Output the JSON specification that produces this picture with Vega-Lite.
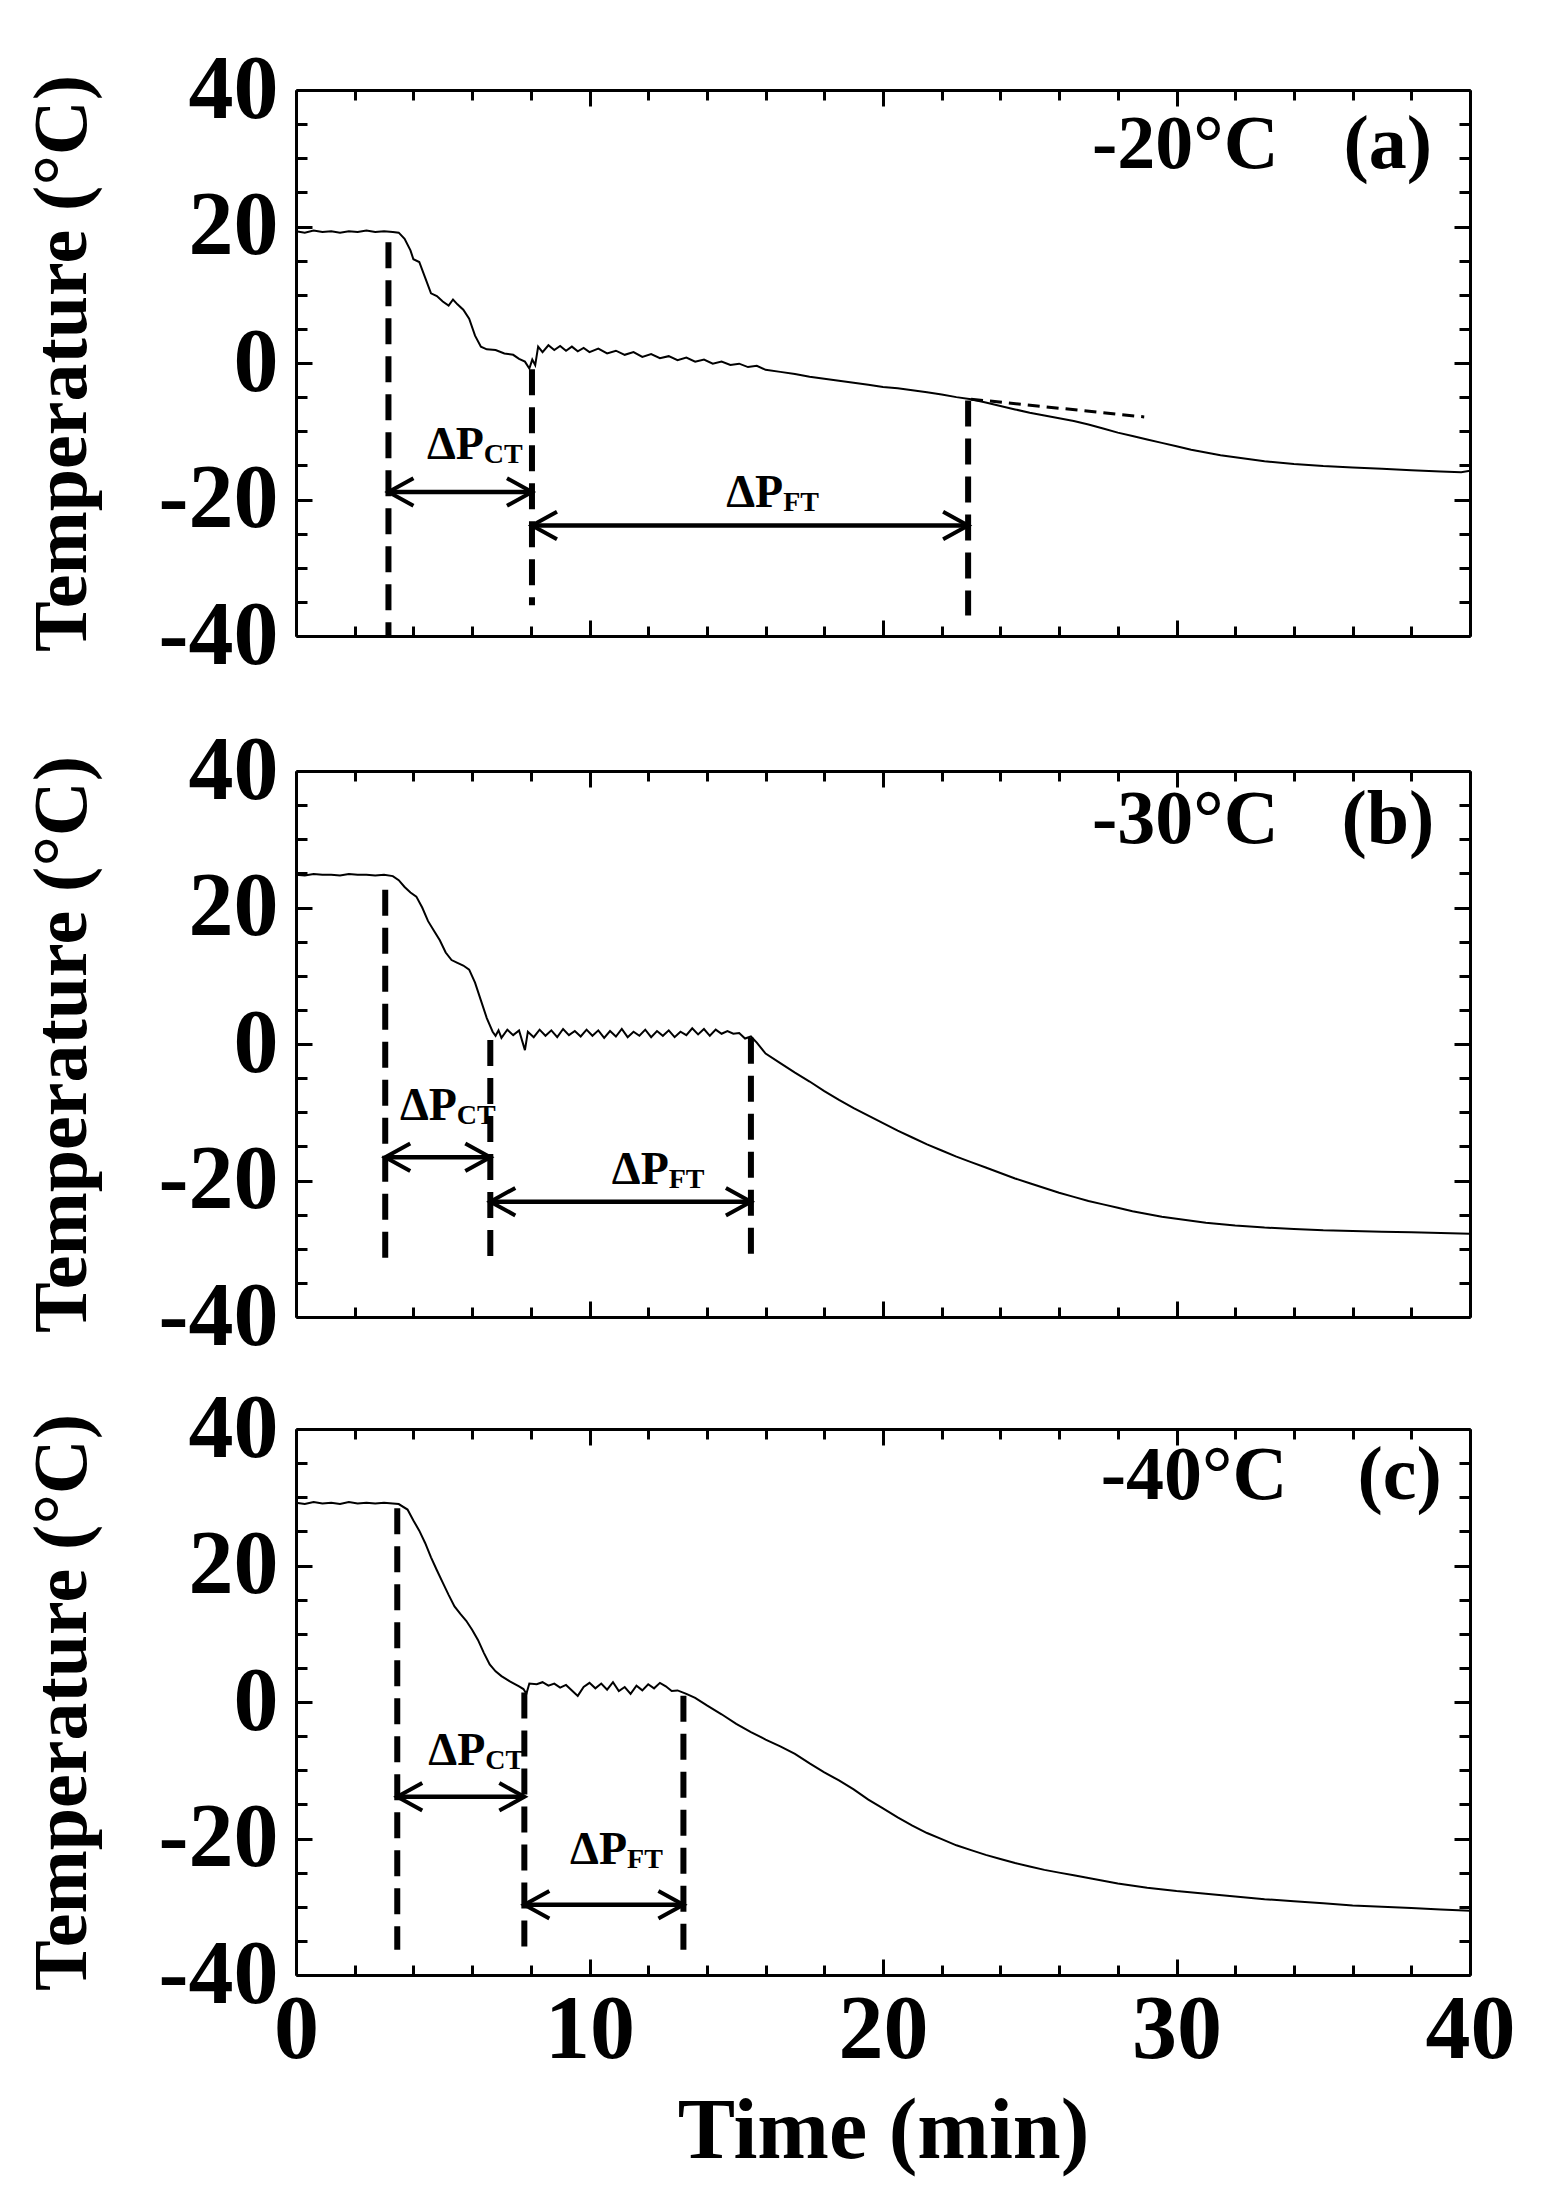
{
  "$schema": "https://vega.github.io/schema/vega-lite/v6.json",
  "background": "white",
  "padding": {"left": 24, "top": 45, "right": 0, "bottom": 20},
  "config": {
    "view": {"stroke": null},
    "font": "Liberation Serif",
    "axis": {
      "grid": false,
      "domainColor": "black",
      "domainWidth": 3,
      "tickColor": "black",
      "tickWidth": 3,
      "labelFont": "Liberation Serif",
      "labelFontSize": 90,
      "labelFontWeight": "bold",
      "labelColor": "black",
      "labelFlush": false,
      "labelOverlap": false,
      "labelBound": false,
      "titleFont": "Liberation Serif",
      "titleFontWeight": "bold",
      "titleColor": "black"
    },
    "text": {"font": "Liberation Serif", "fontWeight": "bold", "color": "black"}
  },
  "datasets": {
    "curve": [
      {"panel":"a","time":0,"temp":19.3},{"panel":"a","time":0.3,"temp":19.1},{"panel":"a","time":0.6,"temp":19.4},{"panel":"a","time":0.9,"temp":19.2},
      {"panel":"a","time":1.2,"temp":19.3},{"panel":"a","time":1.5,"temp":19.1},{"panel":"a","time":1.8,"temp":19.3},{"panel":"a","time":2.1,"temp":19.2},
      {"panel":"a","time":2.4,"temp":19.4},{"panel":"a","time":2.7,"temp":19.2},{"panel":"a","time":3.0,"temp":19.3},{"panel":"a","time":3.3,"temp":19.2},
      {"panel":"a","time":3.5,"temp":19.1},{"panel":"a","time":3.7,"temp":18.2},{"panel":"a","time":3.9,"temp":16.5},{"panel":"a","time":4.0,"temp":15.2},
      {"panel":"a","time":4.2,"temp":14.8},{"panel":"a","time":4.4,"temp":12.5},{"panel":"a","time":4.6,"temp":10.2},{"panel":"a","time":4.8,"temp":9.8},
      {"panel":"a","time":5.0,"temp":9.0},{"panel":"a","time":5.2,"temp":8.4},{"panel":"a","time":5.35,"temp":9.3},{"panel":"a","time":5.5,"temp":8.6},
      {"panel":"a","time":5.7,"temp":7.8},{"panel":"a","time":5.9,"temp":6.5},{"panel":"a","time":6.1,"temp":4.0},{"panel":"a","time":6.3,"temp":2.4},
      {"panel":"a","time":6.5,"temp":2.0},{"panel":"a","time":6.8,"temp":1.9},{"panel":"a","time":7.1,"temp":1.4},{"panel":"a","time":7.4,"temp":1.2},
      {"panel":"a","time":7.6,"temp":0.6},{"panel":"a","time":7.8,"temp":0.2},{"panel":"a","time":7.95,"temp":-0.8},{"panel":"a","time":8.05,"temp":0.5},
      {"panel":"a","time":8.15,"temp":-0.3},{"panel":"a","time":8.25,"temp":2.4},{"panel":"a","time":8.4,"temp":1.6},{"panel":"a","time":8.6,"temp":2.6},
      {"panel":"a","time":8.8,"temp":1.9},{"panel":"a","time":9.0,"temp":2.5},{"panel":"a","time":9.2,"temp":1.8},{"panel":"a","time":9.4,"temp":2.4},
      {"panel":"a","time":9.6,"temp":1.7},{"panel":"a","time":9.8,"temp":2.2},{"panel":"a","time":10.0,"temp":1.6},{"panel":"a","time":10.3,"temp":2.1},
      {"panel":"a","time":10.6,"temp":1.4},{"panel":"a","time":10.9,"temp":1.8},{"panel":"a","time":11.2,"temp":1.2},{"panel":"a","time":11.5,"temp":1.6},
      {"panel":"a","time":11.8,"temp":0.9},{"panel":"a","time":12.1,"temp":1.3},{"panel":"a","time":12.4,"temp":0.7},{"panel":"a","time":12.7,"temp":1.0},
      {"panel":"a","time":13.0,"temp":0.4},{"panel":"a","time":13.3,"temp":0.8},{"panel":"a","time":13.6,"temp":0.2},{"panel":"a","time":13.9,"temp":0.5},
      {"panel":"a","time":14.2,"temp":-0.1},{"panel":"a","time":14.5,"temp":0.2},{"panel":"a","time":14.8,"temp":-0.3},{"panel":"a","time":15.1,"temp":-0.1},
      {"panel":"a","time":15.4,"temp":-0.6},{"panel":"a","time":15.7,"temp":-0.4},{"panel":"a","time":16.0,"temp":-1.0},{"panel":"a","time":16.5,"temp":-1.3},
      {"panel":"a","time":17,"temp":-1.6},{"panel":"a","time":17.5,"temp":-2.0},{"panel":"a","time":18,"temp":-2.3},{"panel":"a","time":18.5,"temp":-2.6},
      {"panel":"a","time":19,"temp":-2.9},{"panel":"a","time":19.5,"temp":-3.2},{"panel":"a","time":20,"temp":-3.5},{"panel":"a","time":20.5,"temp":-3.7},
      {"panel":"a","time":21,"temp":-4.0},{"panel":"a","time":21.5,"temp":-4.3},{"panel":"a","time":22,"temp":-4.6},{"panel":"a","time":22.5,"temp":-5.0},
      {"panel":"a","time":23,"temp":-5.3},{"panel":"a","time":23.5,"temp":-5.8},{"panel":"a","time":24,"temp":-6.3},{"panel":"a","time":24.5,"temp":-6.8},
      {"panel":"a","time":25,"temp":-7.3},{"panel":"a","time":25.5,"temp":-7.7},{"panel":"a","time":26,"temp":-8.1},{"panel":"a","time":26.5,"temp":-8.5},
      {"panel":"a","time":27,"temp":-9.0},{"panel":"a","time":27.5,"temp":-9.6},{"panel":"a","time":28,"temp":-10.2},{"panel":"a","time":28.5,"temp":-10.7},
      {"panel":"a","time":29,"temp":-11.2},{"panel":"a","time":29.5,"temp":-11.7},{"panel":"a","time":30,"temp":-12.2},{"panel":"a","time":30.5,"temp":-12.7},
      {"panel":"a","time":31,"temp":-13.1},{"panel":"a","time":31.5,"temp":-13.5},{"panel":"a","time":32,"temp":-13.8},{"panel":"a","time":32.5,"temp":-14.1},
      {"panel":"a","time":33,"temp":-14.4},{"panel":"a","time":34,"temp":-14.8},{"panel":"a","time":35,"temp":-15.1},{"panel":"a","time":36,"temp":-15.3},
      {"panel":"a","time":37,"temp":-15.5},{"panel":"a","time":38,"temp":-15.7},{"panel":"a","time":39,"temp":-15.9},{"panel":"a","time":39.7,"temp":-16.0},
      {"panel":"a","time":40,"temp":-15.8},

      {"panel":"b","time":0,"temp":24.8},{"panel":"b","time":0.3,"temp":24.7},{"panel":"b","time":0.6,"temp":24.9},{"panel":"b","time":0.9,"temp":24.8},
      {"panel":"b","time":1.2,"temp":24.8},{"panel":"b","time":1.5,"temp":24.7},{"panel":"b","time":1.8,"temp":24.9},{"panel":"b","time":2.1,"temp":24.8},
      {"panel":"b","time":2.4,"temp":24.8},{"panel":"b","time":2.7,"temp":24.7},{"panel":"b","time":3.0,"temp":24.8},{"panel":"b","time":3.3,"temp":24.6},
      {"panel":"b","time":3.5,"temp":24.0},{"panel":"b","time":3.7,"temp":23.0},{"panel":"b","time":3.9,"temp":22.2},{"panel":"b","time":4.1,"temp":21.6},
      {"panel":"b","time":4.3,"temp":20.0},{"panel":"b","time":4.5,"temp":18.0},{"panel":"b","time":4.7,"temp":16.6},{"panel":"b","time":4.9,"temp":15.2},
      {"panel":"b","time":5.1,"temp":13.4},{"panel":"b","time":5.3,"temp":12.3},{"panel":"b","time":5.5,"temp":11.9},{"panel":"b","time":5.7,"temp":11.5},
      {"panel":"b","time":5.9,"temp":10.9},{"panel":"b","time":6.1,"temp":9.0},{"panel":"b","time":6.3,"temp":6.4},{"panel":"b","time":6.5,"temp":3.8},
      {"panel":"b","time":6.7,"temp":1.8},{"panel":"b","time":6.8,"temp":1.2},{"panel":"b","time":6.9,"temp":2.0},{"panel":"b","time":7.0,"temp":0.9},
      {"panel":"b","time":7.2,"temp":2.1},{"panel":"b","time":7.4,"temp":1.3},{"panel":"b","time":7.6,"temp":2.0},{"panel":"b","time":7.8,"temp":-0.9},
      {"panel":"b","time":7.9,"temp":1.8},{"panel":"b","time":8.1,"temp":1.0},{"panel":"b","time":8.3,"temp":2.1},{"panel":"b","time":8.5,"temp":1.2},
      {"panel":"b","time":8.7,"temp":2.0},{"panel":"b","time":8.9,"temp":1.0},{"panel":"b","time":9.1,"temp":2.2},{"panel":"b","time":9.3,"temp":1.3},
      {"panel":"b","time":9.5,"temp":1.9},{"panel":"b","time":9.7,"temp":1.1},{"panel":"b","time":9.9,"temp":2.1},{"panel":"b","time":10.1,"temp":1.2},
      {"panel":"b","time":10.3,"temp":2.0},{"panel":"b","time":10.5,"temp":0.9},{"panel":"b","time":10.7,"temp":1.9},{"panel":"b","time":10.9,"temp":1.1},
      {"panel":"b","time":11.1,"temp":2.2},{"panel":"b","time":11.3,"temp":1.0},{"panel":"b","time":11.5,"temp":1.8},{"panel":"b","time":11.7,"temp":1.2},
      {"panel":"b","time":11.9,"temp":2.1},{"panel":"b","time":12.1,"temp":1.0},{"panel":"b","time":12.3,"temp":1.9},{"panel":"b","time":12.5,"temp":1.2},
      {"panel":"b","time":12.7,"temp":2.0},{"panel":"b","time":12.9,"temp":1.0},{"panel":"b","time":13.1,"temp":1.8},{"panel":"b","time":13.3,"temp":1.3},
      {"panel":"b","time":13.5,"temp":2.3},{"panel":"b","time":13.7,"temp":1.4},{"panel":"b","time":13.9,"temp":2.2},{"panel":"b","time":14.1,"temp":1.2},
      {"panel":"b","time":14.3,"temp":2.1},{"panel":"b","time":14.5,"temp":1.5},{"panel":"b","time":14.7,"temp":1.9},{"panel":"b","time":14.9,"temp":1.5},
      {"panel":"b","time":15.1,"temp":1.6},{"panel":"b","time":15.3,"temp":0.8},{"panel":"b","time":15.5,"temp":1.1},{"panel":"b","time":15.7,"temp":0.2},
      {"panel":"b","time":16,"temp":-1.4},{"panel":"b","time":16.5,"temp":-2.8},{"panel":"b","time":17,"temp":-4.2},{"panel":"b","time":17.5,"temp":-5.5},
      {"panel":"b","time":18,"temp":-6.9},{"panel":"b","time":18.5,"temp":-8.2},{"panel":"b","time":19,"temp":-9.4},{"panel":"b","time":19.5,"temp":-10.5},
      {"panel":"b","time":20,"temp":-11.6},{"panel":"b","time":20.5,"temp":-12.7},{"panel":"b","time":21,"temp":-13.7},{"panel":"b","time":21.5,"temp":-14.7},
      {"panel":"b","time":22,"temp":-15.6},{"panel":"b","time":22.5,"temp":-16.5},{"panel":"b","time":23,"temp":-17.3},{"panel":"b","time":23.5,"temp":-18.1},
      {"panel":"b","time":24,"temp":-18.9},{"panel":"b","time":24.5,"temp":-19.7},{"panel":"b","time":25,"temp":-20.4},{"panel":"b","time":25.5,"temp":-21.1},
      {"panel":"b","time":26,"temp":-21.8},{"panel":"b","time":26.5,"temp":-22.4},{"panel":"b","time":27,"temp":-23.0},{"panel":"b","time":27.5,"temp":-23.5},
      {"panel":"b","time":28,"temp":-24.0},{"panel":"b","time":28.5,"temp":-24.5},{"panel":"b","time":29,"temp":-24.9},{"panel":"b","time":29.5,"temp":-25.3},
      {"panel":"b","time":30,"temp":-25.6},{"panel":"b","time":31,"temp":-26.2},{"panel":"b","time":32,"temp":-26.6},{"panel":"b","time":33,"temp":-26.9},
      {"panel":"b","time":34,"temp":-27.1},{"panel":"b","time":35,"temp":-27.3},{"panel":"b","time":36,"temp":-27.4},{"panel":"b","time":37,"temp":-27.5},
      {"panel":"b","time":38,"temp":-27.6},{"panel":"b","time":39,"temp":-27.7},{"panel":"b","time":40,"temp":-27.8},

      {"panel":"c","time":0,"temp":29.2},{"panel":"c","time":0.3,"temp":29.0},{"panel":"c","time":0.6,"temp":29.3},{"panel":"c","time":0.9,"temp":29.1},
      {"panel":"c","time":1.2,"temp":29.2},{"panel":"c","time":1.5,"temp":29.0},{"panel":"c","time":1.8,"temp":29.3},{"panel":"c","time":2.1,"temp":29.1},
      {"panel":"c","time":2.4,"temp":29.2},{"panel":"c","time":2.7,"temp":29.1},{"panel":"c","time":3.0,"temp":29.2},{"panel":"c","time":3.3,"temp":29.1},
      {"panel":"c","time":3.5,"temp":29.0},{"panel":"c","time":3.8,"temp":28.2},{"panel":"c","time":4.0,"temp":26.6},{"panel":"c","time":4.2,"temp":25.1},
      {"panel":"c","time":4.4,"temp":23.3},{"panel":"c","time":4.6,"temp":21.2},{"panel":"c","time":4.8,"temp":19.3},{"panel":"c","time":5.0,"temp":17.5},
      {"panel":"c","time":5.2,"temp":15.7},{"panel":"c","time":5.4,"temp":14.0},{"panel":"c","time":5.6,"temp":12.9},{"panel":"c","time":5.8,"temp":11.9},
      {"panel":"c","time":6.0,"temp":10.6},{"panel":"c","time":6.2,"temp":9.1},{"panel":"c","time":6.4,"temp":7.2},{"panel":"c","time":6.6,"temp":5.5},
      {"panel":"c","time":6.8,"temp":4.5},{"panel":"c","time":7.0,"temp":3.8},{"panel":"c","time":7.3,"temp":3.0},{"panel":"c","time":7.6,"temp":2.3},
      {"panel":"c","time":7.75,"temp":1.9},{"panel":"c","time":7.85,"temp":1.2},{"panel":"c","time":7.95,"temp":2.7},{"panel":"c","time":8.2,"temp":2.6},
      {"panel":"c","time":8.4,"temp":2.9},{"panel":"c","time":8.6,"temp":2.4},{"panel":"c","time":8.8,"temp":2.7},{"panel":"c","time":9.0,"temp":2.1},
      {"panel":"c","time":9.2,"temp":2.5},{"panel":"c","time":9.4,"temp":1.7},{"panel":"c","time":9.6,"temp":0.9},{"panel":"c","time":9.8,"temp":2.2},
      {"panel":"c","time":10.0,"temp":2.8},{"panel":"c","time":10.2,"temp":2.0},{"panel":"c","time":10.4,"temp":2.7},{"panel":"c","time":10.6,"temp":1.8},
      {"panel":"c","time":10.8,"temp":2.9},{"panel":"c","time":11.0,"temp":1.6},{"panel":"c","time":11.2,"temp":2.2},{"panel":"c","time":11.4,"temp":1.2},
      {"panel":"c","time":11.6,"temp":2.4},{"panel":"c","time":11.8,"temp":1.7},{"panel":"c","time":12.0,"temp":2.6},{"panel":"c","time":12.2,"temp":2.0},
      {"panel":"c","time":12.4,"temp":2.8},{"panel":"c","time":12.6,"temp":2.3},{"panel":"c","time":12.8,"temp":1.6},{"panel":"c","time":13.0,"temp":1.7},
      {"panel":"c","time":13.3,"temp":1.2},{"panel":"c","time":13.6,"temp":0.6},{"panel":"c","time":14,"temp":-0.5},{"panel":"c","time":14.5,"temp":-1.8},
      {"panel":"c","time":15,"temp":-3.2},{"panel":"c","time":15.5,"temp":-4.4},{"panel":"c","time":16,"temp":-5.5},{"panel":"c","time":16.5,"temp":-6.5},
      {"panel":"c","time":17,"temp":-7.6},{"panel":"c","time":17.5,"temp":-9.0},{"panel":"c","time":18,"temp":-10.3},{"panel":"c","time":18.5,"temp":-11.5},
      {"panel":"c","time":19,"temp":-12.8},{"panel":"c","time":19.5,"temp":-14.3},{"panel":"c","time":20,"temp":-15.6},{"panel":"c","time":20.5,"temp":-16.9},
      {"panel":"c","time":21,"temp":-18.1},{"panel":"c","time":21.5,"temp":-19.2},{"panel":"c","time":22,"temp":-20.1},{"panel":"c","time":22.5,"temp":-21.0},
      {"panel":"c","time":23,"temp":-21.7},{"panel":"c","time":23.5,"temp":-22.4},{"panel":"c","time":24,"temp":-23.0},{"panel":"c","time":24.5,"temp":-23.6},
      {"panel":"c","time":25,"temp":-24.1},{"panel":"c","time":25.5,"temp":-24.6},{"panel":"c","time":26,"temp":-25.0},{"panel":"c","time":26.5,"temp":-25.4},
      {"panel":"c","time":27,"temp":-25.8},{"panel":"c","time":27.5,"temp":-26.2},{"panel":"c","time":28,"temp":-26.6},{"panel":"c","time":29,"temp":-27.2},
      {"panel":"c","time":30,"temp":-27.7},{"panel":"c","time":31,"temp":-28.1},{"panel":"c","time":32,"temp":-28.5},{"panel":"c","time":33,"temp":-28.9},
      {"panel":"c","time":34,"temp":-29.2},{"panel":"c","time":35,"temp":-29.5},{"panel":"c","time":36,"temp":-29.8},{"panel":"c","time":37,"temp":-30.0},
      {"panel":"c","time":38,"temp":-30.2},{"panel":"c","time":39,"temp":-30.4},{"panel":"c","time":40,"temp":-30.6}
    ],
    "extrap": [
      {"panel":"a","time":23,"temp":-5.3},{"panel":"a","time":28.9,"temp":-7.9}
    ],
    "vlines": [
      {"panel":"a","time":3.15,"top":17.7,"bottom":-40},
      {"panel":"a","time":8.04,"top":-0.9,"bottom":-35.5},
      {"panel":"a","time":22.9,"top":-5.5,"bottom":-37},
      {"panel":"b","time":3.04,"top":22.6,"bottom":-32.6},
      {"panel":"b","time":6.62,"top":0.6,"bottom":-32.1},
      {"panel":"b","time":15.5,"top":0.9,"bottom":-31.3},
      {"panel":"c","time":3.45,"top":28.4,"bottom":-36.3},
      {"panel":"c","time":7.78,"top":1.4,"bottom":-37.4},
      {"panel":"c","time":13.2,"top":0.9,"bottom":-36.6}
    ],
    "arrows": [
      {"panel":"a","start":3.15,"end":8.04,"temp":-18.9},
      {"panel":"a","start":8.04,"end":22.9,"temp":-23.8},
      {"panel":"b","start":3.04,"end":6.62,"temp":-16.6},
      {"panel":"b","start":6.62,"end":15.5,"temp":-23.1},
      {"panel":"c","start":3.45,"end":7.78,"temp":-13.9},
      {"panel":"c","start":7.78,"end":13.2,"temp":-29.7}
    ],
    "deltas": [
      {"panel":"a","time":6.4,"temp":-14.1,"main":"ΔP","sub":"CT"},
      {"panel":"a","time":16.6,"temp":-21.1,"main":"ΔP","sub":"FT"},
      {"panel":"b","time":5.48,"temp":-11.2,"main":"ΔP","sub":"CT"},
      {"panel":"b","time":12.7,"temp":-20.5,"main":"ΔP","sub":"FT"},
      {"panel":"c","time":6.45,"temp":-9.3,"main":"ΔP","sub":"CT"},
      {"panel":"c","time":11.28,"temp":-23.8,"main":"ΔP","sub":"FT"}
    ],
    "tags": [
      {"panel":"a","time":30.3,"temp":28.6,"label":"-20°C"},
      {"panel":"a","time":37.2,"temp":28.6,"label":"(a)"},
      {"panel":"b","time":30.3,"temp":29.5,"label":"-30°C"},
      {"panel":"b","time":37.2,"temp":29.5,"label":"(b)"},
      {"panel":"c","time":30.6,"temp":29.8,"label":"-40°C"},
      {"panel":"c","time":37.6,"temp":29.8,"label":"(c)"}
    ]
  },
  "bounds": "flush",
  "spacing": 135,
  "vconcat": [
    {
      "width": 1174,
      "height": 546,
      "resolve": {"axis": {"x": "independent", "y": "independent"}},
      "layer": [
        {
          "data": {"name": "curve"},
          "transform": [{"filter": "datum.panel === 'a'"}],
          "mark": {"type": "line", "color": "black", "strokeWidth": 2},
          "encoding": {
            "x": {"field": "time", "type": "quantitative", "scale": {"domain": [0, 40], "nice": false},
              "axis": {"orient": "bottom", "values": [0,2,4,6,8,10,12,14,16,18,20,22,24,26,28,30,32,34,36,38,40],
                "tickSize": {"condition": {"test": "datum.value % 10 === 0", "value": -16}, "value": -10},
                "labels": false, "title": null}},
            "y": {"field": "temp", "type": "quantitative", "scale": {"domain": [-40, 40], "nice": false},
              "axis": {"orient": "left", "values": [-40,-35,-30,-25,-20,-15,-10,-5,0,5,10,15,20,25,30,35,40],
                "tickSize": {"condition": {"test": "datum.value % 20 === 0", "value": -16}, "value": -11},
                "labelExpr": "datum.value % 20 === 0 ? toString(datum.value) : ''",
                "labelPadding": 34, "title": "Temperature (°C)", "titleFontSize": 76, "titlePadding": 57}}
          }
        },
        {
          "data": {"name": "vlines"},
          "transform": [{"filter": "datum.panel === 'a'"}],
          "mark": {"type": "rule", "color": "black", "strokeWidth": 6, "strokeDash": [26, 12]},
          "encoding": {
            "x": {"field": "time", "type": "quantitative",
              "axis": {"orient": "top", "values": [0,2,4,6,8,10,12,14,16,18,20,22,24,26,28,30,32,34,36,38,40],
                "tickSize": {"condition": {"test": "datum.value % 10 === 0", "value": -16}, "value": -10},
                "labels": false, "title": null}},
            "y": {"field": "top", "type": "quantitative",
              "axis": {"orient": "right", "values": [-40,-35,-30,-25,-20,-15,-10,-5,0,5,10,15,20,25,30,35,40],
                "tickSize": {"condition": {"test": "datum.value % 20 === 0", "value": -16}, "value": -11},
                "labels": false, "title": null}},
            "y2": {"field": "bottom"}
          }
        },
        {
          "data": {"name": "extrap"},
          "transform": [{"filter": "datum.panel === 'a'"}],
          "mark": {"type": "line", "color": "black", "strokeWidth": 3, "strokeDash": [12, 7]},
          "encoding": {
            "x": {"field": "time", "type": "quantitative", "axis": null},
            "y": {"field": "temp", "type": "quantitative", "axis": null}
          }
        },
        {
          "data": {"name": "arrows"},
          "transform": [{"filter": "datum.panel === 'a'"}],
          "mark": {"type": "rule", "color": "black", "strokeWidth": 4.5},
          "encoding": {
            "x": {"field": "start", "type": "quantitative", "axis": null},
            "x2": {"field": "end"},
            "y": {"field": "temp", "type": "quantitative", "axis": null}
          }
        },
        {
          "data": {"name": "arrows"},
          "transform": [{"filter": "datum.panel === 'a'"}, {"fold": ["start", "end"], "as": ["side", "time"]}],
          "mark": {"type": "point", "filled": false, "stroke": "black", "strokeWidth": 4, "opacity": 1, "size": 2500},
          "encoding": {
            "x": {"field": "time", "type": "quantitative", "axis": null},
            "y": {"field": "temp", "type": "quantitative", "axis": null},
            "shape": {"field": "side", "type": "nominal", "legend": null,
              "scale": {"domain": ["start", "end"], "range": ["M 1 -0.55 L 0 0 L 1 0.55", "M -1 -0.55 L 0 0 L -1 0.55"]}}
          }
        },
        {
          "data": {"name": "deltas"},
          "transform": [{"filter": "datum.panel === 'a'"}],
          "mark": {"type": "text", "fontSize": 46, "align": "right", "baseline": "alphabetic"},
          "encoding": {
            "x": {"field": "time", "type": "quantitative", "axis": null},
            "y": {"field": "temp", "type": "quantitative", "axis": null},
            "text": {"field": "main"}
          }
        },
        {
          "data": {"name": "deltas"},
          "transform": [{"filter": "datum.panel === 'a'"}],
          "mark": {"type": "text", "fontSize": 28, "align": "left", "baseline": "alphabetic", "dy": 4},
          "encoding": {
            "x": {"field": "time", "type": "quantitative", "axis": null},
            "y": {"field": "temp", "type": "quantitative", "axis": null},
            "text": {"field": "sub"}
          }
        },
        {
          "data": {"name": "tags"},
          "transform": [{"filter": "datum.panel === 'a'"}],
          "mark": {"type": "text", "fontSize": 76, "align": "center", "baseline": "alphabetic"},
          "encoding": {
            "x": {"field": "time", "type": "quantitative", "axis": null},
            "y": {"field": "temp", "type": "quantitative", "axis": null},
            "text": {"field": "label"}
          }
        }
      ]
    },
    {
      "bounds": "flush",
      "spacing": 112,
      "vconcat": [
        {
          "width": 1174,
          "height": 546,
          "resolve": {"axis": {"x": "independent", "y": "independent"}},
          "layer": [
            {
              "data": {"name": "curve"},
              "transform": [{"filter": "datum.panel === 'b'"}],
              "mark": {"type": "line", "color": "black", "strokeWidth": 2},
              "encoding": {
                "x": {"field": "time", "type": "quantitative", "scale": {"domain": [0, 40], "nice": false},
                  "axis": {"orient": "bottom", "values": [0,2,4,6,8,10,12,14,16,18,20,22,24,26,28,30,32,34,36,38,40],
                    "tickSize": {"condition": {"test": "datum.value % 10 === 0", "value": -16}, "value": -10},
                    "labels": false, "title": null}},
                "y": {"field": "temp", "type": "quantitative", "scale": {"domain": [-40, 40], "nice": false},
                  "axis": {"orient": "left", "values": [-40,-35,-30,-25,-20,-15,-10,-5,0,5,10,15,20,25,30,35,40],
                    "tickSize": {"condition": {"test": "datum.value % 20 === 0", "value": -16}, "value": -11},
                    "labelExpr": "datum.value % 20 === 0 ? toString(datum.value) : ''",
                    "labelPadding": 34, "title": "Temperature (°C)", "titleFontSize": 76, "titlePadding": 57}}
              }
            },
            {
              "data": {"name": "vlines"},
              "transform": [{"filter": "datum.panel === 'b'"}],
              "mark": {"type": "rule", "color": "black", "strokeWidth": 6, "strokeDash": [26, 12]},
              "encoding": {
                "x": {"field": "time", "type": "quantitative",
                  "axis": {"orient": "top", "values": [0,2,4,6,8,10,12,14,16,18,20,22,24,26,28,30,32,34,36,38,40],
                    "tickSize": {"condition": {"test": "datum.value % 10 === 0", "value": -16}, "value": -10},
                    "labels": false, "title": null}},
                "y": {"field": "top", "type": "quantitative",
                  "axis": {"orient": "right", "values": [-40,-35,-30,-25,-20,-15,-10,-5,0,5,10,15,20,25,30,35,40],
                    "tickSize": {"condition": {"test": "datum.value % 20 === 0", "value": -16}, "value": -11},
                    "labels": false, "title": null}},
                "y2": {"field": "bottom"}
              }
            },
            {
              "data": {"name": "arrows"},
              "transform": [{"filter": "datum.panel === 'b'"}],
              "mark": {"type": "rule", "color": "black", "strokeWidth": 4.5},
              "encoding": {
                "x": {"field": "start", "type": "quantitative", "axis": null},
                "x2": {"field": "end"},
                "y": {"field": "temp", "type": "quantitative", "axis": null}
              }
            },
            {
              "data": {"name": "arrows"},
              "transform": [{"filter": "datum.panel === 'b'"}, {"fold": ["start", "end"], "as": ["side", "time"]}],
              "mark": {"type": "point", "filled": false, "stroke": "black", "strokeWidth": 4, "opacity": 1, "size": 2500},
              "encoding": {
                "x": {"field": "time", "type": "quantitative", "axis": null},
                "y": {"field": "temp", "type": "quantitative", "axis": null},
                "shape": {"field": "side", "type": "nominal", "legend": null,
                  "scale": {"domain": ["start", "end"], "range": ["M 1 -0.55 L 0 0 L 1 0.55", "M -1 -0.55 L 0 0 L -1 0.55"]}}
              }
            },
            {
              "data": {"name": "deltas"},
              "transform": [{"filter": "datum.panel === 'b'"}],
              "mark": {"type": "text", "fontSize": 46, "align": "right", "baseline": "alphabetic"},
              "encoding": {
                "x": {"field": "time", "type": "quantitative", "axis": null},
                "y": {"field": "temp", "type": "quantitative", "axis": null},
                "text": {"field": "main"}
              }
            },
            {
              "data": {"name": "deltas"},
              "transform": [{"filter": "datum.panel === 'b'"}],
              "mark": {"type": "text", "fontSize": 28, "align": "left", "baseline": "alphabetic", "dy": 4},
              "encoding": {
                "x": {"field": "time", "type": "quantitative", "axis": null},
                "y": {"field": "temp", "type": "quantitative", "axis": null},
                "text": {"field": "sub"}
              }
            },
            {
              "data": {"name": "tags"},
              "transform": [{"filter": "datum.panel === 'b'"}],
              "mark": {"type": "text", "fontSize": 76, "align": "center", "baseline": "alphabetic"},
              "encoding": {
                "x": {"field": "time", "type": "quantitative", "axis": null},
                "y": {"field": "temp", "type": "quantitative", "axis": null},
                "text": {"field": "label"}
              }
            }
          ]
        },
        {
          "width": 1174,
          "height": 546,
          "resolve": {"axis": {"x": "independent", "y": "independent"}},
          "layer": [
            {
              "data": {"name": "curve"},
              "transform": [{"filter": "datum.panel === 'c'"}],
              "mark": {"type": "line", "color": "black", "strokeWidth": 2},
              "encoding": {
                "x": {"field": "time", "type": "quantitative", "scale": {"domain": [0, 40], "nice": false},
                  "axis": {"orient": "bottom", "values": [0,2,4,6,8,10,12,14,16,18,20,22,24,26,28,30,32,34,36,38,40],
                    "tickSize": {"condition": {"test": "datum.value % 10 === 0", "value": -16}, "value": -10},
                    "labelExpr": "datum.value % 10 === 0 ? toString(datum.value) : ''",
                    "labelPadding": 27, "title": "Time (min)", "titleFontSize": 86, "titlePadding": 8}},
                "y": {"field": "temp", "type": "quantitative", "scale": {"domain": [-40, 40], "nice": false},
                  "axis": {"orient": "left", "values": [-40,-35,-30,-25,-20,-15,-10,-5,0,5,10,15,20,25,30,35,40],
                    "tickSize": {"condition": {"test": "datum.value % 20 === 0", "value": -16}, "value": -11},
                    "labelExpr": "datum.value % 20 === 0 ? toString(datum.value) : ''",
                    "labelPadding": 34, "title": "Temperature (°C)", "titleFontSize": 76, "titlePadding": 57}}
              }
            },
            {
              "data": {"name": "vlines"},
              "transform": [{"filter": "datum.panel === 'c'"}],
              "mark": {"type": "rule", "color": "black", "strokeWidth": 6, "strokeDash": [26, 12]},
              "encoding": {
                "x": {"field": "time", "type": "quantitative",
                  "axis": {"orient": "top", "values": [0,2,4,6,8,10,12,14,16,18,20,22,24,26,28,30,32,34,36,38,40],
                    "tickSize": {"condition": {"test": "datum.value % 10 === 0", "value": -16}, "value": -10},
                    "labels": false, "title": null}},
                "y": {"field": "top", "type": "quantitative",
                  "axis": {"orient": "right", "values": [-40,-35,-30,-25,-20,-15,-10,-5,0,5,10,15,20,25,30,35,40],
                    "tickSize": {"condition": {"test": "datum.value % 20 === 0", "value": -16}, "value": -11},
                    "labels": false, "title": null}},
                "y2": {"field": "bottom"}
              }
            },
            {
              "data": {"name": "arrows"},
              "transform": [{"filter": "datum.panel === 'c'"}],
              "mark": {"type": "rule", "color": "black", "strokeWidth": 4.5},
              "encoding": {
                "x": {"field": "start", "type": "quantitative", "axis": null},
                "x2": {"field": "end"},
                "y": {"field": "temp", "type": "quantitative", "axis": null}
              }
            },
            {
              "data": {"name": "arrows"},
              "transform": [{"filter": "datum.panel === 'c'"}, {"fold": ["start", "end"], "as": ["side", "time"]}],
              "mark": {"type": "point", "filled": false, "stroke": "black", "strokeWidth": 4, "opacity": 1, "size": 2500},
              "encoding": {
                "x": {"field": "time", "type": "quantitative", "axis": null},
                "y": {"field": "temp", "type": "quantitative", "axis": null},
                "shape": {"field": "side", "type": "nominal", "legend": null,
                  "scale": {"domain": ["start", "end"], "range": ["M 1 -0.55 L 0 0 L 1 0.55", "M -1 -0.55 L 0 0 L -1 0.55"]}}
              }
            },
            {
              "data": {"name": "deltas"},
              "transform": [{"filter": "datum.panel === 'c'"}],
              "mark": {"type": "text", "fontSize": 46, "align": "right", "baseline": "alphabetic"},
              "encoding": {
                "x": {"field": "time", "type": "quantitative", "axis": null},
                "y": {"field": "temp", "type": "quantitative", "axis": null},
                "text": {"field": "main"}
              }
            },
            {
              "data": {"name": "deltas"},
              "transform": [{"filter": "datum.panel === 'c'"}],
              "mark": {"type": "text", "fontSize": 28, "align": "left", "baseline": "alphabetic", "dy": 4},
              "encoding": {
                "x": {"field": "time", "type": "quantitative", "axis": null},
                "y": {"field": "temp", "type": "quantitative", "axis": null},
                "text": {"field": "sub"}
              }
            },
            {
              "data": {"name": "tags"},
              "transform": [{"filter": "datum.panel === 'c'"}],
              "mark": {"type": "text", "fontSize": 76, "align": "center", "baseline": "alphabetic"},
              "encoding": {
                "x": {"field": "time", "type": "quantitative", "axis": null},
                "y": {"field": "temp", "type": "quantitative", "axis": null},
                "text": {"field": "label"}
              }
            }
          ]
        }
      ]
    }
  ]
}
